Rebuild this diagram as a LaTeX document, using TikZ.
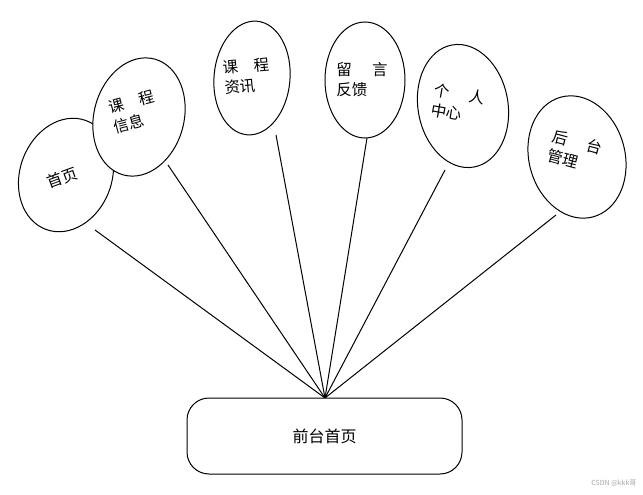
\documentclass[tikz,border=0pt]{standalone}
\usepackage{fontspec}
\newfontfamily\cjk{Noto Sans CJK SC}
\begin{document}
\begin{tikzpicture}[x=1pt,y=-1pt,
  lbl/.style={font=\cjk\fontsize{15.5}{20}\selectfont,align=left,inner sep=0pt},
  ln/.style={line width=1pt}]
\useasboundingbox (0,0) rectangle (643,495);
\coordinate (hub) at (325,398);
\draw[ln] (hub) -- (95,230);
\draw[ln] (hub) -- (168,165);
\draw[ln] (hub) -- (276,135);
\draw[ln] (hub) -- (367,138);
\draw[ln] (hub) -- (445,170);
\draw[ln] (hub) -- (556,215);
\draw[ln,fill=white,rounded corners=22pt] (187,398) rectangle node[font=\cjk\fontsize{16}{18}\selectfont] (main) {前台首页} (462,474);
\draw[ln,fill=white,rotate around={-20:(66,175)}] (66,175) ellipse (46 and 58);
\node[lbl,rotate=20] (a) at (62,178) {首页};
\draw[ln,fill=white,rotate around={-15:(139,117)}] (139,117) ellipse (45 and 60);
\node[lbl,rotate=15] (b) at (134,112) {课\hspace{1em}程\\信息};
\draw[ln,fill=white,rotate around={-5:(252,78)}] (252,78) ellipse (38 and 57);
\node[lbl,rotate=5] (c) at (247,76) {课\hspace{1em}程\\资讯};
\draw[ln,fill=white] (365,80) ellipse (40 and 58);
\node[lbl] (d) at (362,80) {留\hspace{1.3em}言\\反馈};
\draw[ln,fill=white,rotate around={10:(463,106)}] (463,106) ellipse (45 and 62);
\node[lbl,rotate=-10] (e) at (458,104) {个\hspace{1.3em}人\\中心};
\draw[ln,fill=white,rotate around={15:(577,157)}] (577,157) ellipse (48 and 62);
\node[lbl,rotate=-15] (f) at (575,152) {后\hspace{1.3em}台\\管理};
\node[font=\cjk\fontsize{7}{8}\selectfont,text=gray!70,anchor=south east] (w) at (640,490) {CSDN @kkk哥};
\end{tikzpicture}
\end{document}
